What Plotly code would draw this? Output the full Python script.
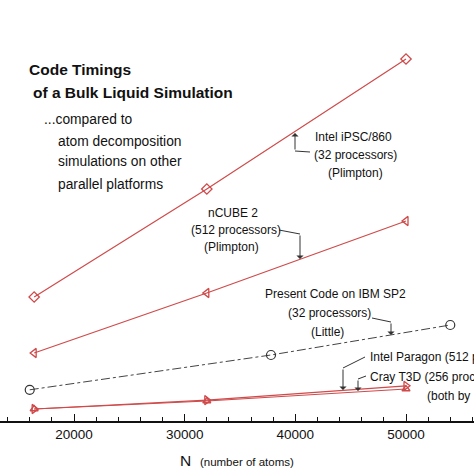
import plotly.graph_objects as go

# ---------------- data ----------------
n_red = [16400, 32000, 50000]          # atoms, Plimpton runs
t_ipsc = [3.1, 5.8, 9.05]              # Intel iPSC/860 (32 procs)
t_ncube = [1.7, 3.2, 5.0]              # nCUBE 2 (512 procs)
t_paragon = [0.3, 0.52, 0.88]          # Intel Paragon (512 procs)
t_cray = [0.3, 0.5, 0.8]               # Cray T3D (256 procs)
n_sp2 = [16000, 37800, 54000]          # atoms, present code
t_sp2 = [0.78, 1.65, 2.4]              # IBM SP2 (32 procs)
x_tickvals = [20000, 30000, 40000, 50000]
x_ticktext = ["20000", "30000", "40000", "50000"]

# ---------------- layout helpers ----------------
W = 474
H = 474
AXIS_Y = 421           # pixel row of the x-axis line
FONT = "Liberation Sans, Arial, Helvetica, sans-serif"
RED = "#cf4a4a"
DARK = "#333333"


def pxx(x):
    return x / W


def pxy(y):
    return (AXIS_Y - y) / AXIS_Y


fig = go.Figure()

fig.add_trace(go.Scatter(x=n_red, y=t_ipsc, mode="lines+markers",
                         line=dict(color=RED, width=1.2),
                         marker=dict(symbol="diamond-open", size=8, color=RED, line=dict(width=1.3))))
fig.add_trace(go.Scatter(x=n_red, y=t_ncube, mode="lines+markers",
                         line=dict(color=RED, width=1.2),
                         marker=dict(symbol="triangle-left-open", size=8, color=RED, line=dict(width=1.3))))
fig.add_trace(go.Scatter(x=n_sp2, y=t_sp2, mode="lines+markers",
                         line=dict(color="#444444", width=1, dash="dashdot"),
                         marker=dict(symbol="circle-open", size=9, color=DARK, line=dict(width=1.2))))
fig.add_trace(go.Scatter(x=n_red, y=t_paragon, mode="lines+markers",
                         line=dict(color=RED, width=1.2),
                         marker=dict(symbol="triangle-right-open", size=8, color=RED, line=dict(width=1.3))))
fig.add_trace(go.Scatter(x=n_red, y=t_cray, mode="lines+markers",
                         line=dict(color=RED, width=1.2),
                         marker=dict(symbol="triangle-up-open", size=7, color=RED, line=dict(width=1.3))))

annotations = []


def text(x, y, s, size=12, bold=False, anchor="left"):
    annotations.append(dict(
        x=pxx(x), y=pxy(y), xref="paper", yref="paper",
        text=("<b>%s</b>" % s) if bold else s, showarrow=False,
        xanchor=anchor, yanchor="middle",
        font=dict(family=FONT, size=size, color="#111111")))


def arrow(x0, y0, x1, y1):
    # arrow from (x0,y0) tail to (x1,y1) tip, in pixels
    annotations.append(dict(
        x=pxx(x1), y=pxy(y1), xref="paper", yref="paper",
        ax=x0 - x1, ay=y0 - y1, axref="pixel", ayref="pixel",
        text="", showarrow=True, arrowhead=1, arrowsize=1.2,
        arrowwidth=1, arrowcolor=DARK, standoff=0, startstandoff=0))


shapes = []


def seg(x0, y0, x1, y1):
    shapes.append(dict(type="line", xref="paper", yref="paper",
                       x0=pxx(x0), y0=pxy(y0), x1=pxx(x1), y1=pxy(y1),
                       line=dict(color=DARK, width=1)))


# title block
text(27, 69, "Code Timings", size=15.5, bold=True)
text(31, 93, "of a Bulk Liquid Simulation", size=15.5, bold=True)
text(42, 120, "...compared to", size=13.8)
text(56, 141, "atom decomposition", size=13.8)
text(56, 162, "simulations on other", size=13.8)
text(56, 184, "parallel platforms", size=13.8)

# Intel iPSC/860
text(313, 137, "Intel iPSC/860")
text(312, 155, "(32 processors)")
text(355, 173, "(Plimpton)", anchor="center")
seg(295, 151, 310, 152)
arrow(295, 151, 295, 133)

# nCUBE 2
text(233, 213, "nCUBE 2", anchor="center")
text(236, 230, "(512 processors)", anchor="center")
text(231, 247, "(Plimpton)", anchor="center")
seg(279, 230, 300, 234)
arrow(300, 234, 300, 259)

# IBM SP2
text(263, 294, "Present Code on IBM SP2")
text(329, 313, "(32 processors)", anchor="center")
text(327, 332, "(Little)", anchor="center")
seg(372, 318, 391, 322)
arrow(391, 322, 391, 335)

# Paragon / Cray
text(368, 357, "Intel Paragon (512 processors)")
text(368, 377, "Cray T3D (256 processors)")
text(425, 396, "(both by Plimpton)")
seg(365, 357, 343, 368)
arrow(343, 368, 343, 390)
seg(366, 376, 358, 379)
arrow(358, 379, 358, 391)

x_per_px = 30000 / (406 - 74)
x_left = 20000 - 74 * x_per_px
x_right = 20000 + (W - 74) * x_per_px

fig.update_layout(
    width=W, height=H,
    margin=dict(l=0, r=0, t=0, b=H - AXIS_Y, pad=0),
    paper_bgcolor="white", plot_bgcolor="white",
    showlegend=False,
    font=dict(family=FONT, color="#111111"),
    annotations=annotations,
    shapes=shapes,
    xaxis=dict(
        range=[x_left, x_right],
        tickmode="array", tickvals=x_tickvals, ticktext=x_ticktext,
        ticks="inside", ticklen=7, tickwidth=1, tickcolor="#111111",
        minor=dict(dtick=2000, tick0=0, ticks="inside", ticklen=4,
                   tickwidth=1, tickcolor="#111111", showgrid=False),
        showline=True, linewidth=2, linecolor="#111111",
        showgrid=False, zeroline=False,
        tickfont=dict(family=FONT, size=13.5, color="#111111"),
        title=dict(text="N  <span style='font-size:11.5px'>(number of atoms)</span>",
                   font=dict(family=FONT, size=15.5, color="#111111"), standoff=14),
    ),
    yaxis=dict(range=[0, AXIS_Y / 40], visible=False, showgrid=False, zeroline=False),
)

fig.write_html("out.html")
